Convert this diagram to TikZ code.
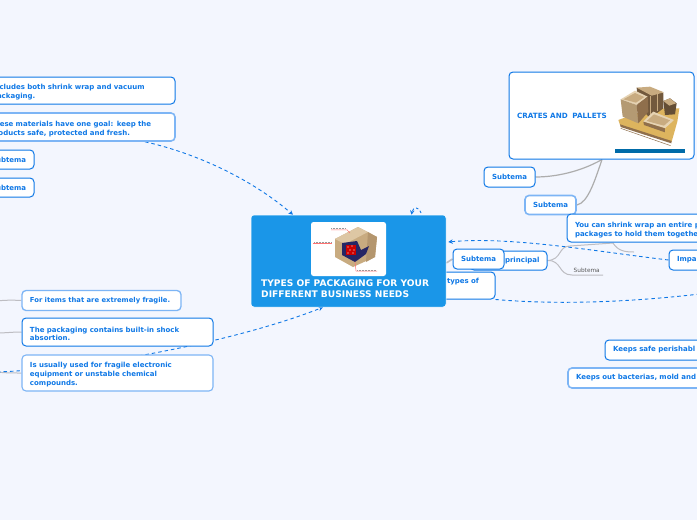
\documentclass[tikz,border=0pt]{standalone}
\usepackage{fontspec}
\setmainfont{DejaVu Sans}
\usetikzlibrary{arrows.meta}
\pgfdeclarelayer{back}
\pgfsetlayers{back,main}
\definecolor{pagebg}{HTML}{F3F6FE}
\definecolor{topicblue}{HTML}{0F78E6}
\definecolor{softblue}{HTML}{7DB5F5}
\definecolor{centralblue}{HTML}{1A96E8}
\definecolor{linkgray}{HTML}{BDBDC2}
\definecolor{wood}{HTML}{C8AB80}
\definecolor{wooddark}{HTML}{8F6F4C}
\definecolor{woodlight}{HTML}{E6D3B3}
\definecolor{palletc}{HTML}{DDB45E}
\newcommand{\lowertext}{\rule{0pt}{9pt}}
\tikzset{
  x=1pt,y=-1pt,
  topic/.style={draw=topicblue,fill=white,line width=1pt,rounded corners=4pt,inner xsep=8pt,inner ysep=0pt,
    align=left,text=topicblue,font=\fontsize{7}{8.9}\selectfont\bfseries,anchor=center,
    execute at begin node={\hyphenpenalty=10000 }},
  softtopic/.style={topic,draw=softblue,line width=1.6pt},
  graylink/.style={draw=linkgray,line width=1pt},
  darklink/.style={draw=black!32,line width=1.2pt},
  dashlink/.style={draw=topicblue,line width=.9pt,dash pattern=on 3.5pt off 3pt,-{Stealth[length=4.5pt,width=4.5pt]}},
  dashfree/.style={draw=topicblue,line width=.9pt,dash pattern=on 3.5pt off 3pt},
}
\begin{document}
\begin{tikzpicture}
\useasboundingbox (0,0) rectangle (697,520);
\clip (0,0) rectangle (697,520);
\begin{pgfonlayer}{back}
\fill[pagebg] (0,0) rectangle (697,520);
\end{pgfonlayer}

\coordinate (leftA) at (-3,301);
\coordinate (leftB) at (-3,333);
\coordinate (leftC) at (-3,372);
\coordinate (loopEnd) at (421,213);
\coordinate (rightEnd) at (700,294);
\coordinate (hiddenEnd) at (634,252);

\node[topic,minimum height=27pt,text width=49pt] (types) at (462.5,285.5) {\hspace*{9pt}types of\\\mbox{}};
\node[topic,draw=white,line width=.5pt,fill=centralblue,rounded corners=3pt,minimum width=195pt,minimum height=92pt,inner xsep=0pt] (central) at (348.5,261) {};
\node[topic,minimum height=19pt,text width=61pt] (principal) at (508.5,260.5) {\hspace*{27pt}principal};
\node[font=\fontsize{5.8}{7}\selectfont,text=black!65,inner sep=0pt,anchor=west] (grayleaf) at (573.5,270) {Subtema};

\node[topic,minimum height=27pt,text width=175pt] (incl) at (79.5,90.5) {\lowertext Includes both shrink wrap and vacuum\\packaging.};
\node[softtopic,minimum height=28pt,text width=177pt] (goal) at (78.5,127) {\lowertext These materials have one goal: keep the\\products safe, protected and fresh.};
\node[topic,minimum height=19pt,text width=35pt] (subL1) at (8.5,159.5) {Subtema};
\node[topic,minimum height=19pt,text width=35pt] (subL2) at (8.5,187.5) {Subtema};

\node[topic,minimum height=20pt,text width=35pt] (subR1) at (509.5,177) {Subtema};
\node[softtopic,minimum height=19pt,text width=35pt] (subR2) at (550.5,205) {Subtema};
\node[topic,minimum height=28pt,text width=200pt] (shrink) at (675,228) {\lowertext You can shrink wrap an entire p\\packages to hold them together};
\node[topic,minimum height=20pt,text width=60pt] (impa) at (707,260) {Impa};
\node[topic,minimum height=20pt,text width=120pt] (safe) at (673,350) {Keeps safe perishabl};
\node[softtopic,minimum height=20pt,text width=157pt] (bact) at (654.5,378) {Keeps out bacterias, mold and};

\node[softtopic,line width=1.3pt,minimum height=20pt,text width=143pt] (fragile) at (101.5,300.5) {\fontsize{6.8}{8.9}\selectfont For items that are extremely fragile.};
\node[topic,minimum height=28pt,text width=175pt] (shock) at (117.5,332) {\lowertext The packaging contains built-in shock\\absortion.};
\node[softtopic,line width=1.1pt,minimum height=36pt,text width=175pt] (usually) at (117.5,373) {\lowertext Is usually used for fragile electronic\\equipment or unstable chemical\\compounds.};
\node[topic,minimum height=20pt,text width=35pt] (subC) at (478.5,259) {Subtema};
\node[topic,minimum width=185pt,minimum height=87pt,text width=169pt] (crates) at (601.5,115.5) {\fontsize{7.2}{9}\selectfont CRATES AND\ \ PALLETS};

\begin{pgfonlayer}{back}
\draw[graylink] (leftA) .. controls (5,300) and (12,300) .. (fragile.west);
\draw[graylink] (leftB) .. controls (5,333) and (12,332) .. (shock.west);
\draw[graylink] (leftC) .. controls (5,373) and (12,373) .. (usually.west);
\draw[darklink] ([xshift=.5pt]crates.south) .. controls (580,172) and (555,177) .. (subR1.east);
\draw[darklink] ([xshift=.5pt]crates.south) .. controls (595,180) and (588,203) .. (subR2.east);
\draw[graylink] (principal.east) .. controls (562,260) and (558,246) .. (570,246) -- (613,243) .. controls (618,251) and (625,252) .. (hiddenEnd);
\draw[graylink] (principal.east) .. controls (562,260) and (558,275) .. (572,275) -- (603,275);
\draw[graylink,line width=1.6pt] (central.east) ++(0,2) -- (subC.west);
\draw[dashlink] (impa.west) .. controls (600,252) and (510,236) .. ([xshift=2pt,yshift=19pt]central.east);
\draw[dashfree] (types.south east) .. controls (560,305) and (630,302) .. (rightEnd);
\draw[dashlink] ([xshift=66.5pt]goal.south) .. controls (195,153) and (250,178) .. ([xshift=-55.5pt]central.north);
\draw[dashlink] (leftC) .. controls (100,368) and (240,340) .. ([xshift=-25.5pt]central.south);
\draw[dashlink,dash pattern=on 2.5pt off 2.5pt] (loopEnd) .. controls (420,207) and (413,206) .. ([xshift=63pt]central.north);
\end{pgfonlayer}

\fill[white,rounded corners=2.5pt] (311,222) rectangle (386,276);
% package illustration
\fill[wood] (335,239) -- (358,227) -- (377,237) -- (375,257) -- (353,267) -- (335,257) -- cycle;
\fill[woodlight!70!wood] (335,239) -- (358,227) -- (368,232) -- (345,244) -- cycle;
\fill[wooddark!35!wood] (368,232) -- (377,237) -- (375,257) -- (366,262) -- cycle;
\fill[black!65!blue!70!gray] (342,243) -- (357,241) -- (361,250) -- (369,246) -- (366,254) -- (355,262) -- (342,255) -- cycle;
\fill[red!80!black] (346,245) rectangle (356,255);
\foreach \px/\py in {348/247,352/246,350/250,354/250,348/253,353/253}{\fill[white] (\px,\py) circle (.7pt);}
\draw[red!55!white,line width=.6pt] (313,243.5) -- (332,243.5);
\draw[black!40,line width=1pt,dash pattern=on 1pt off .5pt] (314,242.2) -- (331,242.2);
\draw[black!40,line width=1pt,dash pattern=on 1pt off .5pt] (331,228.5) -- (346,228.5);
\draw[red!55!white,line width=.5pt] (331,229.8) -- (347,229.8) -- (350,233);
\draw[black!40,line width=1pt,dash pattern=on 1pt off .5pt] (357,270) -- (376,270);
\draw[red!55!white,line width=.5pt] (355,262) -- (356,271) -- (377,271);
\node[inner sep=0pt,anchor=north west,align=left,text=white,font=\fontsize{9.1}{11}\selectfont\bfseries] (title) at (261,279.3) {TYPES OF PACKAGING FOR YOUR\\DIFFERENT BUSINESS NEEDS};

% crates illustration
\begin{scope}[shift={(600,75)},x=.3333pt,y=-.3333pt]
  \fill[palletc] (55,135) -- (150,100) -- (238,100) -- (232,140) -- (215,200) -- (60,150) -- cycle;
  \fill[wooddark] (60,148) -- (215,198) -- (214,205) -- (62,156) -- cycle;
  \draw[wooddark,line width=.5pt] (62,160) -- (212,212);
  \fill[wooddark!80!black] (110,38) -- (160,45) -- (190,55) -- (190,100) -- (150,130) -- (115,90) -- cycle;
  \fill[wood] (110,38) -- (150,35) -- (192,52) -- (155,62) -- cycle;
  \draw[wood,line width=.6pt] (152,62) -- (152,120) (172,58) -- (172,108);
  \fill[wooddark!70!black] (190,78) -- (210,70) -- (230,85) -- (225,118) -- (195,120) -- cycle;
  \fill[wood] (190,78) -- (210,70) -- (228,85) -- (208,92) -- cycle;
  \fill[woodlight] (62,73) -- (105,47) -- (143,65) -- (110,90) -- cycle;
  \fill[wood] (70,73) -- (105,54) -- (133,66) -- (108,83) -- cycle;
  \fill[wood!90!black] (62,73) -- (110,90) -- (115,145) -- (68,125) -- cycle;
  \fill[wooddark] (110,90) -- (143,65) -- (145,110) -- (115,145) -- cycle;
  \fill[woodlight] (130,140) -- (160,110) -- (222,135) -- (195,160) -- cycle;
  \fill[wood] (140,138) -- (162,118) -- (210,136) -- (192,152) -- cycle;
  \fill[wooddark] (130,140) -- (195,160) -- (195,172) -- (132,150) -- cycle;
  \fill[black!15!blue!40!cyan!70!black] (45,222) rectangle (255,234);
\end{scope}
\end{tikzpicture}
\end{document}
